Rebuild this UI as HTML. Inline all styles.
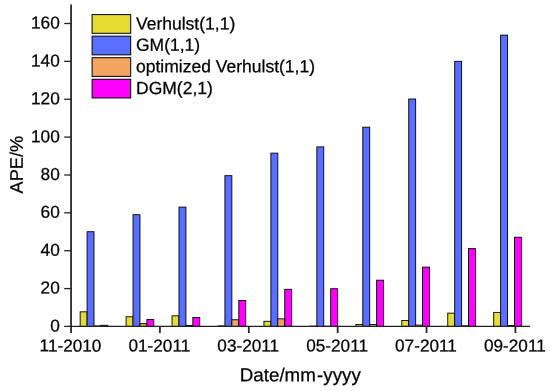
<!DOCTYPE html>
<html><head><meta charset="utf-8"><title>APE chart</title>
<style>
html,body{margin:0;padding:0;background:#fff;}
svg{display:block;}
text{font-family:"Liberation Sans",sans-serif;fill:#000;stroke:#000;stroke-width:0.25px;}
.t{font-size:17.3px;}
.l{font-size:17.5px;}
.a{font-size:18px;}
</style></head><body>
<svg width="550" height="391" viewBox="0 0 550 391">
<rect width="550" height="391" fill="#fff"/>

<g stroke="#000" stroke-width="0.9">
<rect x="80.15" y="311.82" width="6.93" height="14.58" fill="#E6DC32"/>
<rect x="87.08" y="231.72" width="6.93" height="94.67" fill="#5A6EFF"/>
<rect x="94.01" y="325.93" width="6.93" height="0.47" fill="#F4A460"/>
<rect x="100.94" y="325.26" width="6.93" height="1.14" fill="#FF00FF"/>
<rect x="126.10" y="316.74" width="6.93" height="9.66" fill="#E6DC32"/>
<rect x="133.03" y="214.68" width="6.93" height="111.72" fill="#5A6EFF"/>
<rect x="139.96" y="323.65" width="6.93" height="2.75" fill="#F4A460"/>
<rect x="146.89" y="319.58" width="6.93" height="6.82" fill="#FF00FF"/>
<rect x="172.05" y="315.80" width="6.93" height="10.60" fill="#E6DC32"/>
<rect x="178.98" y="207.11" width="6.93" height="119.29" fill="#5A6EFF"/>
<rect x="185.91" y="325.55" width="6.93" height="0.85" fill="#F4A460"/>
<rect x="192.84" y="317.50" width="6.93" height="8.90" fill="#FF00FF"/>
<rect x="218.00" y="325.93" width="6.93" height="0.47" fill="#E6DC32"/>
<rect x="224.93" y="175.68" width="6.93" height="150.72" fill="#5A6EFF"/>
<rect x="231.86" y="319.77" width="6.93" height="6.63" fill="#F4A460"/>
<rect x="238.79" y="300.46" width="6.93" height="25.94" fill="#FF00FF"/>
<rect x="263.95" y="321.29" width="6.93" height="5.11" fill="#E6DC32"/>
<rect x="270.88" y="153.14" width="6.93" height="173.26" fill="#5A6EFF"/>
<rect x="277.81" y="318.83" width="6.93" height="7.57" fill="#F4A460"/>
<rect x="284.74" y="289.29" width="6.93" height="37.11" fill="#FF00FF"/>
<rect x="309.90" y="326.12" width="6.93" height="0.28" fill="#E6DC32"/>
<rect x="316.83" y="146.90" width="6.93" height="179.50" fill="#5A6EFF"/>
<rect x="323.76" y="326.21" width="6.93" height="0.19" fill="#F4A460"/>
<rect x="330.69" y="288.72" width="6.93" height="37.68" fill="#FF00FF"/>
<rect x="355.85" y="324.51" width="6.93" height="1.89" fill="#E6DC32"/>
<rect x="362.78" y="127.20" width="6.93" height="199.20" fill="#5A6EFF"/>
<rect x="369.71" y="324.51" width="6.93" height="1.89" fill="#F4A460"/>
<rect x="376.64" y="280.20" width="6.93" height="46.20" fill="#FF00FF"/>
<rect x="401.80" y="320.53" width="6.93" height="5.87" fill="#E6DC32"/>
<rect x="408.73" y="98.99" width="6.93" height="227.41" fill="#5A6EFF"/>
<rect x="415.66" y="325.07" width="6.93" height="1.33" fill="#F4A460"/>
<rect x="422.59" y="267.13" width="6.93" height="59.27" fill="#FF00FF"/>
<rect x="447.75" y="313.15" width="6.93" height="13.25" fill="#E6DC32"/>
<rect x="454.68" y="61.31" width="6.93" height="265.09" fill="#5A6EFF"/>
<rect x="461.61" y="325.83" width="6.93" height="0.57" fill="#F4A460"/>
<rect x="468.54" y="248.58" width="6.93" height="77.82" fill="#FF00FF"/>
<rect x="493.70" y="312.39" width="6.93" height="14.01" fill="#E6DC32"/>
<rect x="500.63" y="35.09" width="6.93" height="291.31" fill="#5A6EFF"/>
<rect x="507.56" y="325.45" width="6.93" height="0.95" fill="#F4A460"/>
<rect x="514.49" y="237.22" width="6.93" height="89.18" fill="#FF00FF"/>
</g>
<g stroke="#222" stroke-width="1.75" fill="none">
<line x1="71.05" y1="4.4" x2="71.05" y2="333.0"/>
<line x1="159.92" y1="326.4" x2="159.92" y2="333.0"/>
<line x1="248.79" y1="326.4" x2="248.79" y2="333.0"/>
<line x1="337.66" y1="326.4" x2="337.66" y2="333.0"/>
<line x1="426.53" y1="326.4" x2="426.53" y2="333.0"/>
<line x1="515.40" y1="326.4" x2="515.40" y2="333.0"/>
</g>
<g stroke="#222" stroke-width="1.3" fill="none">
<line x1="64.2" y1="326.45" x2="530.2" y2="326.45"/>
<line x1="64.2" y1="288.58" x2="71.05" y2="288.58"/>
<line x1="64.2" y1="250.71" x2="71.05" y2="250.71"/>
<line x1="64.2" y1="212.84" x2="71.05" y2="212.84"/>
<line x1="64.2" y1="174.97" x2="71.05" y2="174.97"/>
<line x1="64.2" y1="137.10" x2="71.05" y2="137.10"/>
<line x1="64.2" y1="99.23" x2="71.05" y2="99.23"/>
<line x1="64.2" y1="61.36" x2="71.05" y2="61.36"/>
<line x1="64.2" y1="23.49" x2="71.05" y2="23.49"/>
</g>
<g class="t" text-anchor="end">
<text x="59.8" y="331.50" transform="rotate(0.03 59.8 331.50)">0</text>
<text x="59.8" y="293.63" transform="rotate(0.03 59.8 293.63)">20</text>
<text x="59.8" y="255.76" transform="rotate(0.03 59.8 255.76)">40</text>
<text x="59.8" y="217.89" transform="rotate(0.03 59.8 217.89)">60</text>
<text x="59.8" y="180.02" transform="rotate(0.03 59.8 180.02)">80</text>
<text x="59.8" y="142.15" transform="rotate(0.03 59.8 142.15)">100</text>
<text x="59.8" y="104.28" transform="rotate(0.03 59.8 104.28)">120</text>
<text x="59.8" y="66.41" transform="rotate(0.03 59.8 66.41)">140</text>
<text x="59.8" y="28.54" transform="rotate(0.03 59.8 28.54)">160</text>
</g>
<g class="t" style="font-size:17.2px" text-anchor="middle">
<text x="70.50" y="351.4" transform="rotate(0.03 70.50 351.4)">11-2010</text>
<text x="159.37" y="351.4" transform="rotate(0.03 159.37 351.4)">01-2011</text>
<text x="248.24" y="351.4" transform="rotate(0.03 248.24 351.4)">03-2011</text>
<text x="337.11" y="351.4" transform="rotate(0.03 337.11 351.4)">05-2011</text>
<text x="425.98" y="351.4" transform="rotate(0.03 425.98 351.4)">07-2011</text>
<text x="514.85" y="351.4" transform="rotate(0.03 514.85 351.4)">09-2011</text>
</g>
<text class="a" style="font-size:18.75px" x="360.8" y="381.3" transform="rotate(0.03 300 381.3)" text-anchor="end" dx="0 0 0 0 0 0 0 1.2">Date/mm-yyyy</text>
<text class="a" style="font-size:18.2px" transform="translate(22.75,164.6) rotate(-89.97)" text-anchor="middle">APE/%</text>
<g stroke="#000" stroke-width="1">
<rect x="92.1" y="14.60" width="38.6" height="18.7" fill="#E6DC32"/>
<rect x="92.1" y="36.15" width="38.6" height="18.7" fill="#5A6EFF"/>
<rect x="92.1" y="57.70" width="38.6" height="18.7" fill="#F4A460"/>
<rect x="92.1" y="79.25" width="38.6" height="18.7" fill="#FF00FF"/>
</g>
<g class="l">
<text x="136.0" y="29.50" transform="rotate(0.03 136.0 29.50)">Verhulst(1,1)</text>
<text x="136.0" y="50.80" transform="rotate(0.03 136.0 50.80)">GM(1,1)</text>
<text x="136.0" y="72.20" transform="rotate(0.03 136.0 72.20)">optimized Verhulst(1,1)</text>
<text x="136.0" y="94.00" transform="rotate(0.03 136.0 94.00)">DGM(2,1)</text>
</g>
</svg></body></html>
